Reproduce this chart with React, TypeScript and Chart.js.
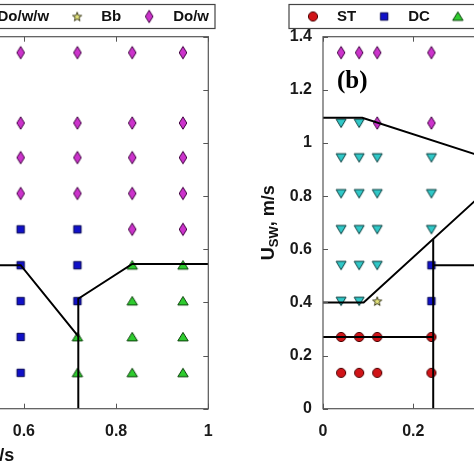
import React, { useEffect, useRef } from "react";
import { Chart, registerables } from "chart.js";

Chart.register(...registerables);

type Pt = [number, number];

// ---------------- Data ----------------
const SERIES_LABELS = ["ST", "DC", "SM", "Do/w/w", "Bb", "Do/w"];

const X_TICKS = [0, 0.2, 0.4, 0.6, 0.8, 1];
const Y_TICKS = [0, 0.2, 0.4, 0.6, 0.8, 1, 1.2, 1.4];

// Panel (a) – visible part
const A_ST: Pt[] = [];
const A_DC: Pt[] = [
  [0.593, 0.135], [0.593, 0.27], [0.593, 0.405], [0.593, 0.54], [0.593, 0.675],
  [0.716, 0.405], [0.716, 0.54], [0.716, 0.675],
];
const A_SM: Pt[] = [
  [0.716, 0.135], [0.716, 0.27],
  [0.835, 0.135], [0.835, 0.27], [0.835, 0.405], [0.835, 0.54],
  [0.945, 0.135], [0.945, 0.27], [0.945, 0.405], [0.945, 0.54],
];
const A_DOWW: Pt[] = [];
const A_BB: Pt[] = [];
const A_DOW: Pt[] = [
  [0.835, 0.675], [0.945, 0.675],
  [0.593, 0.81], [0.716, 0.81], [0.835, 0.81], [0.945, 0.81],
  [0.593, 0.945], [0.716, 0.945], [0.835, 0.945], [0.945, 0.945],
  [0.593, 1.075], [0.716, 1.075], [0.835, 1.075], [0.945, 1.075],
  [0.593, 1.34], [0.716, 1.34], [0.835, 1.34], [0.945, 1.34],
];
const A_BOUND_1: Pt[] = [[0.5, 0.54], [0.593, 0.54], [0.718, 0.272]];
const A_BOUND_2: Pt[] = [[0.718, 0], [0.718, 0.414], [0.835, 0.545], [1, 0.545]];

// Panel (b) – visible part
const B_ST: Pt[] = [
  [0.04, 0.135], [0.08, 0.135], [0.12, 0.135], [0.24, 0.135],
  [0.04, 0.27], [0.08, 0.27], [0.12, 0.27], [0.24, 0.27],
];
const B_DC: Pt[] = [[0.24, 0.405], [0.24, 0.54]];
const B_SM: Pt[] = [];
const B_DOWW: Pt[] = [
  [0.04, 0.405], [0.08, 0.405],
  [0.04, 0.54], [0.08, 0.54], [0.12, 0.54],
  [0.04, 0.675], [0.08, 0.675], [0.12, 0.675], [0.24, 0.675],
  [0.04, 0.81], [0.08, 0.81], [0.12, 0.81], [0.24, 0.81],
  [0.04, 0.945], [0.08, 0.945], [0.12, 0.945], [0.24, 0.945],
  [0.04, 1.075], [0.08, 1.075],
];
const B_BB: Pt[] = [[0.12, 0.405]];
const B_DOW: Pt[] = [
  [0.12, 1.075], [0.24, 1.075],
  [0.04, 1.34], [0.08, 1.34], [0.12, 1.34], [0.24, 1.34],
];
const B_BOUND_1: Pt[] = [[0, 1.095], [0.087, 1.095], [0.42, 0.912]];
const B_BOUND_2: Pt[] = [[0, 0.4], [0.09, 0.4], [0.42, 0.912]];
const B_BOUND_3: Pt[] = [[0, 0.27], [0.244, 0.27]];
const B_BOUND_4: Pt[] = [[0.244, 0], [0.244, 0.64]];
const B_BOUND_5: Pt[] = [[0.244, 0.54], [1, 0.54]];

// ---------------- Styling ----------------
const FONT = "'Liberation Sans', Arial, sans-serif";
const SERIF = "'Liberation Serif', 'Times New Roman', serif";

const MARKER_STYLES = [
  { kind: "circle", fill: "#d01418", edge: "#4a0000" },
  { kind: "square", fill: "#1010c8", edge: "#000050" },
  { kind: "triUp", fill: "#2ecc2e", edge: "#0a400a" },
  { kind: "triDown", fill: "#30c8c8", edge: "#0a3c3c" },
  { kind: "star", fill: "#e2e27a", edge: "#404020" },
  { kind: "diamond", fill: "#cc33cc", edge: "#400040" },
];

function makeMarker(kind: string, fill: string, edge: string): HTMLCanvasElement {
  const c = document.createElement("canvas");
  c.width = 16;
  c.height = 16;
  const ctx = c.getContext("2d")!;
  const cx = 8, cy = 8;
  ctx.fillStyle = fill;
  ctx.strokeStyle = edge;
  ctx.lineWidth = 1;
  ctx.beginPath();
  if (kind === "circle") {
    ctx.arc(cx, cy, 4.6, 0, Math.PI * 2);
  } else if (kind === "square") {
    ctx.rect(cx - 3.7, cy - 3.7, 7.4, 7.4);
  } else if (kind === "triUp") {
    ctx.moveTo(cx, cy - 4.6);
    ctx.lineTo(cx + 5.2, cy + 3.9);
    ctx.lineTo(cx - 5.2, cy + 3.9);
    ctx.closePath();
  } else if (kind === "triDown") {
    ctx.moveTo(cx - 5, cy - 3.9);
    ctx.lineTo(cx + 5, cy - 3.9);
    ctx.lineTo(cx, cy + 4.5);
    ctx.closePath();
  } else if (kind === "diamond") {
    ctx.moveTo(cx, cy - 6.2);
    ctx.lineTo(cx + 3.8, cy);
    ctx.lineTo(cx, cy + 6.2);
    ctx.lineTo(cx - 3.8, cy);
    ctx.closePath();
  } else if (kind === "star") {
    for (let i = 0; i < 10; i++) {
      const r = i % 2 === 0 ? 4.8 : 2.0;
      const a = -Math.PI / 2 + (i * Math.PI) / 5;
      const px = cx + r * Math.cos(a);
      const py = cy + 0.5 + r * Math.sin(a);
      if (i === 0) ctx.moveTo(px, py);
      else ctx.lineTo(px, py);
    }
    ctx.closePath();
  }
  ctx.fill();
  ctx.stroke();
  return c;
}

type Part = { t: string; sub?: boolean };

function partsWidth(ctx: CanvasRenderingContext2D, parts: Part[]) {
  let w = 0;
  for (const p of parts) {
    ctx.font = p.sub ? `bold 13px ${FONT}` : `bold 18px ${FONT}`;
    w += ctx.measureText(p.t).width;
  }
  return w;
}

function drawParts(ctx: CanvasRenderingContext2D, parts: Part[], startX: number, baseY: number) {
  let x = startX;
  ctx.textAlign = "left";
  ctx.textBaseline = "alphabetic";
  for (const p of parts) {
    ctx.font = p.sub ? `bold 13px ${FONT}` : `bold 18px ${FONT}`;
    ctx.fillText(p.t, x, baseY + (p.sub ? 4 : 0));
    x += ctx.measureText(p.t).width;
  }
}

const X_TITLE: Part[] = [{ t: "U" }, { t: "SO", sub: true }, { t: ", m/s" }];
const Y_TITLE: Part[] = [{ t: "U" }, { t: "SW", sub: true }, { t: ", m/s" }];

interface PanelSpec {
  series: Pt[][];
  bounds: Pt[][];
  xMax: number;
  label: string;
  areaLeft: number;
  areaRight: number;
  legendAnchor: "left" | "right";
  legendOffset: number;
}

const CANVAS_W = 600;
const CANVAS_H = 474;
const AREA_TOP = 36.7;
const AREA_BOTTOM = 408.7;

function buildChart(canvas: HTMLCanvasElement, spec: PanelSpec) {
  const markers = MARKER_STYLES.map((m) => makeMarker(m.kind, m.fill, m.edge));
  const datasets: any[] = [];
  spec.bounds.forEach((b) => {
    datasets.push({
      label: "",
      isBoundary: true,
      data: b.map(([x, y]) => ({ x, y })),
      showLine: true,
      borderColor: "#000",
      borderWidth: 2,
      pointRadius: 0,
      pointHoverRadius: 0,
      tension: 0,
      fill: false,
      order: 0,
    });
  });
  spec.series.forEach((s, i) => {
    datasets.push({
      label: SERIES_LABELS[i],
      markerIndex: i,
      data: s.map(([x, y]) => ({ x, y })),
      pointStyle: markers[i],
      pointRadius: 5,
      pointHoverRadius: 5,
      showLine: false,
      order: 1,
    });
  });

  const framePlugin = {
    id: "frame",
    afterDatasetsDraw(chart: any) {
      const { ctx, chartArea } = chart;
      const { left, right, top, bottom } = chartArea;
      ctx.save();
      ctx.strokeStyle = "#555";
      ctx.lineWidth = 1.2;
      ctx.strokeRect(left, top, right - left, bottom - top);
      ctx.lineWidth = 1;
      const xs = chart.scales.x;
      const ys = chart.scales.y;
      ctx.beginPath();
      xs.ticks.forEach((t: any) => {
        const p = Math.round(xs.getPixelForValue(t.value)) + 0.5;
        ctx.moveTo(p, bottom);
        ctx.lineTo(p, bottom - 5);
        ctx.moveTo(p, top);
        ctx.lineTo(p, top + 5);
      });
      ys.ticks.forEach((t: any) => {
        const p = Math.round(ys.getPixelForValue(t.value)) + 0.5;
        ctx.moveTo(left, p);
        ctx.lineTo(left + 5, p);
        ctx.moveTo(right, p);
        ctx.lineTo(right - 5, p);
      });
      ctx.stroke();
      ctx.restore();
    },
  };

  const decorPlugin = {
    id: "decor",
    afterDraw(chart: any) {
      const { ctx, chartArea } = chart;
      ctx.save();
      ctx.fillStyle = "#111";
      // x-axis title
      const xw = partsWidth(ctx, X_TITLE);
      const cx = (chartArea.left + chartArea.right) / 2;
      drawParts(ctx, X_TITLE, cx - xw / 2, 461);
      // y-axis title (rotated)
      const yw = partsWidth(ctx, Y_TITLE);
      const cy = (chartArea.top + chartArea.bottom) / 2;
      ctx.save();
      ctx.translate(chartArea.left - 49, cy);
      ctx.rotate(-Math.PI / 2);
      drawParts(ctx, Y_TITLE, -yw / 2, 0);
      ctx.restore();
      // panel label
      ctx.font = `bold 25px ${SERIF}`;
      ctx.textAlign = "left";
      ctx.textBaseline = "alphabetic";
      ctx.fillStyle = "#000";
      ctx.fillText(spec.label, chartArea.left + 14, 88);

      // legend
      ctx.font = `bold 15px ${FONT}`;
      const items = chart.data.datasets.filter((d: any) => !d.isBoundary);
      const widths = items.map((d: any) => ctx.measureText(d.label).width);
      const pos: number[] = [];
      let cur = 24;
      items.forEach((_: any, i: number) => {
        pos.push(cur);
        cur += 24 + widths[i] + 28;
      });
      const last = items.length - 1;
      const boxW = pos[last] + 24 + widths[last] + 6;
      const boxLeft =
        spec.legendAnchor === "left"
          ? chartArea.left + spec.legendOffset
          : chartArea.right + spec.legendOffset - boxW;
      ctx.fillStyle = "#fff";
      ctx.fillRect(boxLeft, 4, boxW, 24);
      ctx.strokeStyle = "#444";
      ctx.lineWidth = 1.2;
      ctx.strokeRect(boxLeft, 4.5, boxW, 24);
      ctx.fillStyle = "#111";
      ctx.textBaseline = "middle";
      items.forEach((d: any, i: number) => {
        const mx = boxLeft + pos[i];
        ctx.drawImage(markers[d.markerIndex], mx - 8, 16.5 - 8);
        ctx.fillText(d.label, mx + 24, 17);
      });
      ctx.restore();
    },
  };

  const tickFont = { family: FONT, size: 16, weight: "bold" as const };

  return new Chart(canvas, {
    type: "scatter",
    data: { datasets },
    plugins: [framePlugin, decorPlugin],
    options: {
      animation: false,
      responsive: false,
      devicePixelRatio: 1,
      events: [],
      layout: {
        padding: {
          left: 0,
          right: CANVAS_W - spec.areaRight,
          top: AREA_TOP,
          bottom: 0,
        },
      },
      plugins: {
        legend: { display: false },
        tooltip: { enabled: false },
        title: { display: false },
      },
      scales: {
        x: {
          type: "linear",
          min: 0,
          max: spec.xMax,
          grid: { display: false },
          border: { display: false },
          afterBuildTicks: (s: any) => {
            s.ticks = X_TICKS.filter((v) => v <= spec.xMax).map((v) => ({ value: v }));
          },
          afterFit: (s: any) => {
            s.height = CANVAS_H - AREA_BOTTOM;
          },
          ticks: {
            font: tickFont,
            color: "#1a1a1a",
            padding: 5,
            maxRotation: 0,
            autoSkip: false,
            callback: (v: any) => String(v),
          },
        },
        y: {
          type: "linear",
          min: 0,
          max: 1.4,
          grid: { display: false },
          border: { display: false },
          afterBuildTicks: (s: any) => {
            s.ticks = Y_TICKS.map((v) => ({ value: v }));
          },
          afterFit: (s: any) => {
            s.width = spec.areaLeft;
          },
          ticks: {
            font: tickFont,
            color: "#1a1a1a",
            padding: 3,
            autoSkip: false,
            callback: (v: any) => String(v),
          },
        },
      },
    } as any,
  });
}

const PANEL_A: PanelSpec = {
  series: [A_ST, A_DC, A_SM, A_DOWW, A_BB, A_DOW],
  bounds: [A_BOUND_1, A_BOUND_2],
  xMax: 1,
  label: "(a)",
  areaLeft: 87.3,
  areaRight: 548.3,
  legendAnchor: "right",
  legendOffset: 6.7,
};

const PANEL_B: PanelSpec = {
  series: [B_ST, B_DC, B_SM, B_DOWW, B_BB, B_DOW],
  bounds: [B_BOUND_1, B_BOUND_2, B_BOUND_3, B_BOUND_4, B_BOUND_5],
  xMax: 1,
  label: "(b)",
  areaLeft: 93,
  areaRight: 544.7,
  legendAnchor: "left",
  legendOffset: -34,
};

export default function App() {
  const aRef = useRef<HTMLCanvasElement>(null);
  const bRef = useRef<HTMLCanvasElement>(null);

  useEffect(() => {
    const ca = buildChart(aRef.current!, PANEL_A);
    const cb = buildChart(bRef.current!, PANEL_B);
    return () => {
      ca.destroy();
      cb.destroy();
    };
  }, []);

  return (
    <div
      style={{
        position: "fixed",
        left: 0,
        top: 0,
        width: 474,
        height: 474,
        overflow: "hidden",
        background: "#fff",
      }}
    >
      <canvas
        ref={aRef}
        width={CANVAS_W}
        height={CANVAS_H}
        style={{ position: "absolute", left: -340, top: 0, width: CANVAS_W, height: CANVAS_H }}
      />
      <canvas
        ref={bRef}
        width={CANVAS_W}
        height={CANVAS_H}
        style={{ position: "absolute", left: 230, top: 0, width: CANVAS_W, height: CANVAS_H }}
      />
    </div>
  );
}
